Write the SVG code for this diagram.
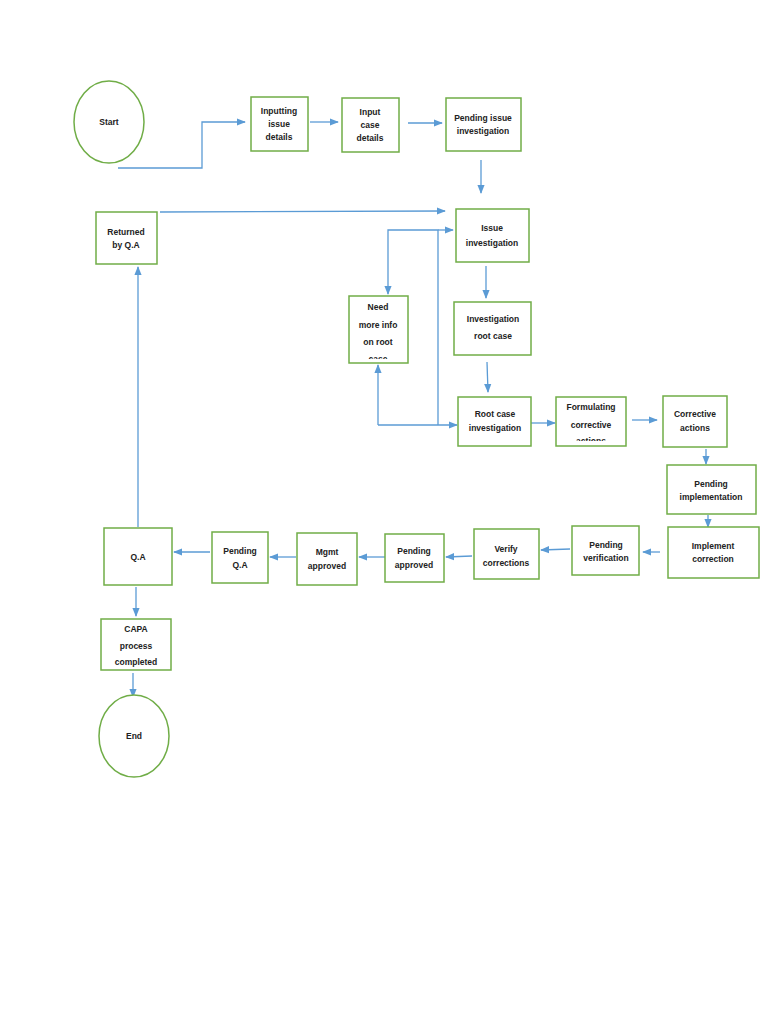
<svg xmlns="http://www.w3.org/2000/svg" width="768" height="1024" viewBox="0 0 768 1024">
<style>
.n{fill:#fff;stroke:#70ad47;stroke-width:1.5}
.t{font-family:"Liberation Sans",Arial,sans-serif;font-size:8.5px;font-weight:bold;fill:#222;text-anchor:middle}
.c{fill:none;stroke:#5b9bd5;stroke-width:1.3}
</style>
<defs><marker id="a" viewBox="0 0 10 10" refX="9" refY="5" markerWidth="7" markerHeight="7" orient="auto"><path d="M0,1L10,5L0,9z" fill="#5b9bd5"/></marker></defs>
<rect width="768" height="1024" fill="#fff"/>
<g id="connectors">
<path class="c" d="M118,168H202V122H245" marker-end="url(#a)"/>
<path class="c" d="M310,122H338" marker-end="url(#a)"/>
<path class="c" d="M408,123H442" marker-end="url(#a)"/>
<path class="c" d="M481,160V193" marker-end="url(#a)"/>
<path class="c" d="M160,212L445,211" marker-end="url(#a)"/>
<path class="c" d="M438,425V230H388V294" marker-end="url(#a)"/>
<path class="c" d="M438,230H453" marker-end="url(#a)"/>
<path class="c" d="M378,425V365" marker-end="url(#a)"/>
<path class="c" d="M378,425H457" marker-end="url(#a)"/>
<path class="c" d="M486,266V298" marker-end="url(#a)"/>
<path class="c" d="M487,362L488,392" marker-end="url(#a)"/>
<path class="c" d="M531,423H555" marker-end="url(#a)"/>
<path class="c" d="M632,420H657" marker-end="url(#a)"/>
<path class="c" d="M706,449V464" marker-end="url(#a)"/>
<path class="c" d="M708,515V527" marker-end="url(#a)"/>
<path class="c" d="M660,552H643" marker-end="url(#a)"/>
<path class="c" d="M570,549L541,550" marker-end="url(#a)"/>
<path class="c" d="M472,556L446,557" marker-end="url(#a)"/>
<path class="c" d="M385,557H359" marker-end="url(#a)"/>
<path class="c" d="M296,557H270" marker-end="url(#a)"/>
<path class="c" d="M210,552H174" marker-end="url(#a)"/>
<path class="c" d="M136,587V616" marker-end="url(#a)"/>
<path class="c" d="M133,673V697" marker-end="url(#a)"/>
<path class="c" d="M138,527V267" marker-end="url(#a)"/>
</g>
<g id="start"><ellipse class="n" cx="109" cy="122" rx="35" ry="41"/><text class="t" x="109" y="125">Start</text></g>
<g id="inputting"><rect class="n" x="251" y="97" width="57" height="54"/><text class="t" x="279" y="114">Inputting</text><text class="t" x="279" y="127">issue</text><text class="t" x="279" y="140">details</text></g>
<g id="inputcase"><rect class="n" x="342" y="98" width="57" height="54"/><text class="t" x="370" y="115">Input</text><text class="t" x="370" y="128">case</text><text class="t" x="370" y="141">details</text></g>
<g id="pendingissue"><rect class="n" x="446" y="98" width="75" height="53"/><text class="t" x="483" y="121">Pending issue</text><text class="t" x="483" y="134">investigation</text></g>
<g id="returned"><rect class="n" x="96" y="212" width="61" height="52"/><text class="t" x="126" y="235">Returned</text><text class="t" x="126" y="248">by Q.A</text></g>
<g id="issueinv"><rect class="n" x="456" y="209" width="73" height="53"/><text class="t" x="492" y="231">Issue</text><text class="t" x="492" y="246">investigation</text></g>
<g id="need"><rect class="n" x="349" y="296" width="59" height="67"/><text class="t" x="378" y="310">Need</text><text class="t" x="378" y="328">more info</text><text class="t" x="378" y="345">on root</text><text class="t" x="378" y="362" clip-path="url(#cl)">case</text></g>
<defs><clipPath id="cl"><rect x="349" y="296" width="59" height="63"/></clipPath></defs>
<g id="invroot"><rect class="n" x="454" y="302" width="77" height="53"/><text class="t" x="493" y="322">Investigation</text><text class="t" x="493" y="339">root case</text></g>
<g id="rootinv"><rect class="n" x="458" y="397" width="73" height="49"/><text class="t" x="495" y="417">Root case</text><text class="t" x="495" y="431">investigation</text></g>
<g id="formulating"><rect class="n" x="556" y="397" width="70" height="49"/><text class="t" x="591" y="410">Formulating</text><text class="t" x="591" y="428">corrective</text><text class="t" x="591" y="444" clip-path="url(#cl2)">actions</text></g>
<defs><clipPath id="cl2"><rect x="556" y="397" width="70" height="44"/></clipPath></defs>
<g id="corrective"><rect class="n" x="663" y="396" width="64" height="51"/><text class="t" x="695" y="417">Corrective</text><text class="t" x="695" y="431">actions</text></g>
<g id="pendingimpl"><rect class="n" x="667" y="465" width="89" height="49"/><text class="t" x="711" y="487">Pending</text><text class="t" x="711" y="500">implementation</text></g>
<g id="implement"><rect class="n" x="668" y="527" width="91" height="51"/><text class="t" x="713" y="549">Implement</text><text class="t" x="713" y="562">correction</text></g>
<g id="pendingver"><rect class="n" x="572" y="526" width="67" height="49"/><text class="t" x="606" y="548">Pending</text><text class="t" x="606" y="561">verification</text></g>
<g id="verify"><rect class="n" x="474" y="529" width="65" height="50"/><text class="t" x="506" y="552">Verify</text><text class="t" x="506" y="566">corrections</text></g>
<g id="pendingappr"><rect class="n" x="385" y="534" width="59" height="48"/><text class="t" x="414" y="554">Pending</text><text class="t" x="414" y="568">approved</text></g>
<g id="mgmt"><rect class="n" x="297" y="533" width="60" height="52"/><text class="t" x="327" y="555">Mgmt</text><text class="t" x="327" y="569">approved</text></g>
<g id="pendingqa"><rect class="n" x="212" y="532" width="56" height="51"/><text class="t" x="240" y="554">Pending</text><text class="t" x="240" y="568">Q.A</text></g>
<g id="qa"><rect class="n" x="104" y="528" width="68" height="57"/><text class="t" x="138" y="560">Q.A</text></g>
<g id="capa"><rect class="n" x="101" y="619" width="70" height="51"/><text class="t" x="136" y="632">CAPA</text><text class="t" x="136" y="649">process</text><text class="t" x="136" y="665">completed</text></g>
<g id="end"><ellipse class="n" cx="134" cy="736" rx="35" ry="41"/><text class="t" x="134" y="739">End</text></g>
</svg>
